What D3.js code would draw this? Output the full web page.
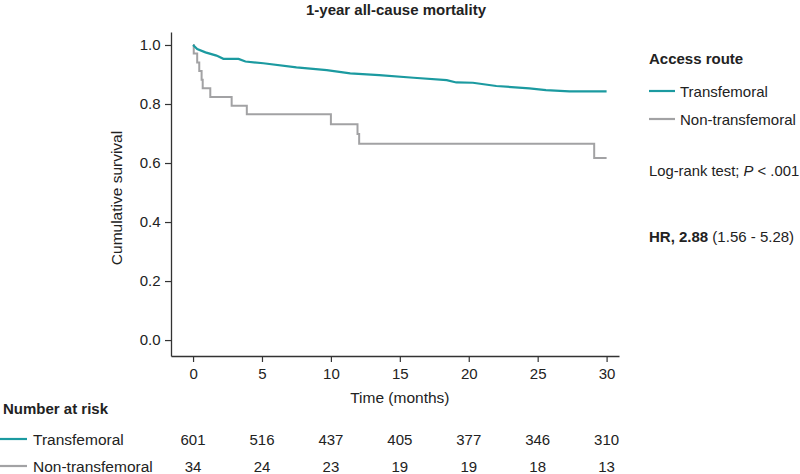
<!DOCTYPE html>
<html>
<head>
<meta charset="utf-8">
<script src="https://cdn.jsdelivr.net/npm/d3@7"></script>
<style>
  body { margin: 0; background: #fff; }
  text { font-family: "Liberation Sans", Arial, sans-serif; fill: #222; }
</style>
</head>
<body>
<script>
// Survival curves (time in months, cumulative survival)
var transfemoralTime = [0, 0.3, 0.9, 1.7, 2.2, 3.3, 3.8, 5.1, 7.5, 9.7, 11.4, 13.5, 16.0, 18.4, 19.1, 20.3, 22.0, 24.4, 25.6, 27.3, 30];
var transfemoralSurv = [1.0, 0.986, 0.975, 0.964, 0.953, 0.953, 0.944, 0.938, 0.924, 0.915, 0.904, 0.898, 0.889, 0.881, 0.873, 0.872, 0.861, 0.853, 0.847, 0.843, 0.843];

var nonTfTime = [0, 0.05, 0.3, 0.45, 0.62, 0.7, 1.25, 2.8, 3.9, 10.0, 11.93, 12.05, 29.1, 30];
var nonTfSurv = [1.0, 0.971, 0.941, 0.912, 0.882, 0.853, 0.824, 0.794, 0.765, 0.731, 0.698, 0.665, 0.617, 0.617];

var riskTimes = [0, 5, 10, 15, 20, 25, 30];
var riskTransfemoral = [601, 516, 437, 405, 377, 346, 310];
var riskNonTf = [34, 24, 23, 19, 19, 18, 13];

var yTicks = [0, 0.2, 0.4, 0.6, 0.8, 1.0];
var xTicks = [0, 5, 10, 15, 20, 25, 30];

var teal = "#1b9aa0";
var grey = "#a2a2a4";

var svgWidth = 800;
var svgHeight = 474;

var svg = d3.select("body")
  .append("svg")
  .attr("width", svgWidth)
  .attr("height", svgHeight);

// Plot area edges (axis lines)
var plotLeft = 171, plotRight = 619, plotTop = 32, plotBottom = 356;

var x = d3.scaleLinear()
  .domain([-1.6, 30.9])
  .range([plotLeft, plotRight]);

var y = d3.scaleLinear()
  .domain([-0.054, 1.044])
  .range([plotBottom, plotTop]);

// title
svg.append("text")
  .attr("x", 396)
  .attr("y", 15)
  .attr("text-anchor", "middle")
  .style("font-weight", "bold")
  .style("font-size", "15px")
  .text("1-year all-cause mortality");

// axes
var xAxis = svg.append("g")
  .attr("transform", `translate(0, ${plotBottom})`)
  .call(d3.axisBottom(x).tickValues(xTicks).tickSize(6).tickSizeOuter(0).tickFormat(d3.format("d")));

var yAxis = svg.append("g")
  .attr("transform", `translate(${plotLeft}, 0)`)
  .call(d3.axisLeft(y).tickValues(yTicks).tickSize(6).tickSizeOuter(0).tickFormat(d3.format(".1f")));

[xAxis, yAxis].forEach(function (g) {
  g.select(".domain").attr("stroke", "#333").attr("stroke-width", 1.3);
  g.selectAll(".tick line").attr("stroke", "#333").attr("stroke-width", 1.2);
  g.selectAll(".tick text")
    .style("font-family", "'Liberation Sans', Arial, sans-serif")
    .style("font-size", "15px")
    .attr("fill", "#222");
});
xAxis.selectAll(".tick text").attr("dy", "0.95em");
yAxis.selectAll(".tick text").attr("dx", "-0.1em");

// axis titles
svg.append("text")
  .attr("x", (x(0) + x(30)) / 2)
  .attr("y", 403)
  .attr("text-anchor", "middle")
  .style("font-size", "15.5px")
  .text("Time (months)");

svg.append("text")
  .attr("transform", `translate(122, ${(plotTop + plotBottom) / 2 + 4}) rotate(-90)`)
  .attr("text-anchor", "middle")
  .style("font-size", "15.5px")
  .text("Cumulative survival");

// curves
var line = d3.line()
  .x(d => x(d[0]))
  .y(d => y(d[1]))
  .curve(d3.curveStepAfter);

var tfLine = d3.line()
  .x(d => x(d[0]))
  .y(d => y(d[1]));

svg.append("path")
  .datum(nonTfTime.map((t, i) => [t, nonTfSurv[i]]))
  .attr("fill", "none")
  .attr("stroke", grey)
  .attr("stroke-width", 2)
  .attr("d", line);

svg.append("path")
  .datum(transfemoralTime.map((t, i) => [t, transfemoralSurv[i]]))
  .attr("fill", "none")
  .attr("stroke", teal)
  .attr("stroke-width", 2.2)
  .attr("d", tfLine);

// right-hand legend
var lx = 649;
svg.append("text")
  .attr("x", lx).attr("y", 64)
  .style("font-weight", "bold").style("font-size", "15px")
  .text("Access route");

var legendItems = [["Transfemoral", teal, 91], ["Non-transfemoral", grey, 119]];
legendItems.forEach(function (d) {
  svg.append("line")
    .attr("x1", lx).attr("x2", lx + 26)
    .attr("y1", d[2]).attr("y2", d[2])
    .attr("stroke", d[1]).attr("stroke-width", 2.2);
  svg.append("text")
    .attr("x", lx + 31).attr("y", d[2] + 5.5)
    .style("font-size", "15px")
    .text(d[0]);
});

var lr = svg.append("text")
  .attr("x", lx).attr("y", 176)
  .style("font-size", "14.8px");
lr.append("tspan").text("Log-rank test; ");
lr.append("tspan").style("font-style", "italic").text("P");
lr.append("tspan").text(" < .001");

var hr = svg.append("text")
  .attr("x", lx).attr("y", 242)
  .style("font-size", "15px");
hr.append("tspan").style("font-weight", "bold").text("HR, 2.88");
hr.append("tspan").text(" (1.56 - 5.28)");

// number at risk table
svg.append("text")
  .attr("x", 3).attr("y", 414)
  .style("font-weight", "bold").style("font-size", "15px")
  .text("Number at risk");

var riskRows = [["Transfemoral", teal, 439, riskTransfemoral], ["Non-transfemoral", grey, 466, riskNonTf]];
riskRows.forEach(function (r) {
  svg.append("line")
    .attr("x1", 0).attr("x2", 27)
    .attr("y1", r[2]).attr("y2", r[2])
    .attr("stroke", r[1]).attr("stroke-width", 2.2);
  svg.append("text")
    .attr("x", 33).attr("y", r[2] + 5.5)
    .style("font-size", "15.5px")
    .text(r[0]);
  svg.selectAll(null)
    .data(riskTimes)
    .enter()
    .append("text")
    .attr("x", d => x(d))
    .attr("y", r[2] + 5.5)
    .attr("text-anchor", "middle")
    .style("font-size", "15px")
    .text((d, i) => r[3][i]);
});
</script>
</body>
</html>
